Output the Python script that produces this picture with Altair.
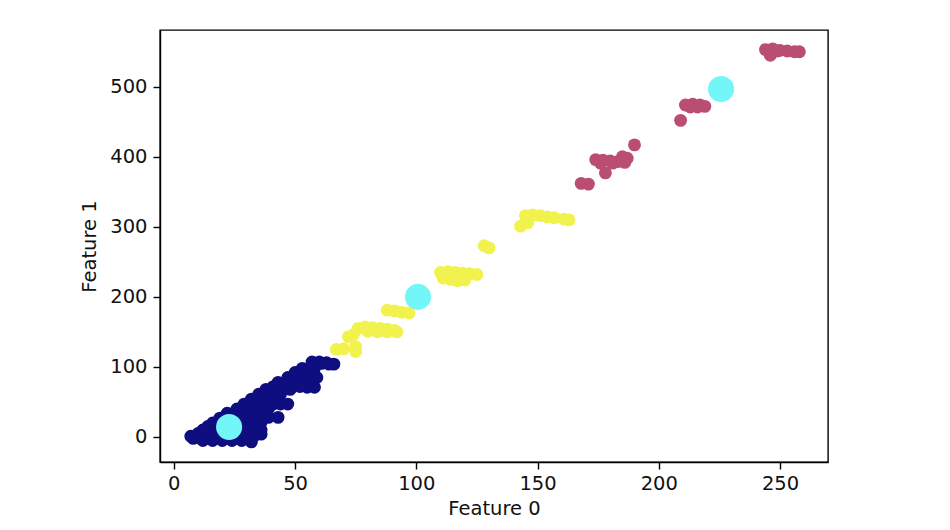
import altair as alt
import pandas as pd

# cluster 0 (navy)
blue_points = [
    (32, -7),
    (12, -5), (16, -5), (20, -5), (24, -5), (28, -5), (31, -4),
    (8, -2), (11, -2), (14, -2), (17, -2), (20, -2), (24, -2), (27, -2), (30, -2),
    (7, 1), (10, 1), (13, 1), (16, 1), (19, 1), (22, 1), (26, 1), (30, 1), (33, 1),
    (10, 5), (13, 5), (16, 5), (19, 5), (22, 5), (25, 5), (29, 5), (33, 5), (36, 4),
    (12, 10), (15, 10), (18, 10), (21, 10), (24, 10), (28, 10), (32, 10), (36, 10),
    (14, 15), (17, 15), (20, 15), (23, 15), (26, 15), (30, 15), (34, 15),
    (16, 20), (19, 20), (22, 20), (25, 20), (28, 20), (32, 20), (36, 21),
    (19, 27), (22, 27), (25, 27), (28, 27), (31, 27), (35, 27), (39, 28), (43, 28),
    (22, 34), (25, 34), (28, 34), (31, 34), (34, 34), (38, 34),
    (26, 40), (29, 40), (32, 40), (35, 40), (39, 40),
    (29, 47), (32, 47), (35, 47), (38, 47), (41, 47), (44, 47), (47, 47),
    (32, 54), (35, 54), (38, 54), (41, 54), (43, 54),
    (35, 61), (38, 61), (41, 61), (44, 61),
    (38, 68), (41, 68), (44, 68), (48, 68),
    (41, 72), (45, 72), (49, 72), (52, 72), (55, 71), (58, 71),
    (43, 78), (46, 78), (49, 78), (52, 78), (55, 78),
    (47, 85), (50, 85), (53, 85), (56, 85), (59, 85),
    (50, 92), (53, 92), (56, 92),
    (53, 98), (56, 98), (58, 98),
    (58, 104), (61, 105), (64, 104), (66, 104),
    (57, 107), (60, 107), (63, 106),
]

# cluster 1 (yellow)
yellow_points = [
    (67, 125), (70, 126), (75, 122), (75, 129), (72, 143), (74, 146),
    (76, 155), (79, 157), (82, 156), (85, 155), (88, 154), (91, 152),
    (80, 151), (84, 150), (88, 150), (92, 150),
    (88, 181), (91, 180), (94, 178), (97, 177),
    (110, 235), (113, 236), (116, 235), (119, 234), (122, 233), (125, 232),
    (111, 227), (114, 225), (117, 223), (120, 224),
    (128, 273), (130, 270),
    (145, 316), (148, 317), (151, 316), (154, 314), (157, 313), (161, 311),
    (163, 310), (143, 301), (146, 306),
]

# cluster 2 (pink-red)
red_points = [
    (168, 362), (171, 361),
    (174, 396), (177, 395), (180, 394), (183, 393), (186, 392),
    (187, 398), (185, 400), (176, 391), (181, 391), (178, 377),
    (190, 417),
    (209, 452),
    (211, 474), (214, 475), (217, 474), (219, 472), (213, 471), (216, 471),
    (244, 553), (247, 554), (250, 552), (253, 551), (256, 550), (258, 550),
    (246, 545), (249, 551),
]

# cluster centres
centers = [(22.8, 14.3), (100.7, 200.0), (225.7, 496.7)]

cluster_names = ["c0", "c1", "c2"]
cluster_colors = ["#0f0e80", "#f2f24f", "#b94e72"]
center_color = "#72f6f7"

x_ticks = [0, 50, 100, 150, 200, 250]
y_ticks = [0, 100, 200, 300, 400, 500]

rows = []
for name, pts in zip(cluster_names, [blue_points, yellow_points, red_points]):
    for x, y in pts:
        rows.append({"f0": x, "f1": y, "cluster": name})
df = pd.DataFrame(rows)
dc = pd.DataFrame([{"f0": x, "f1": y} for x, y in centers])

font = "DejaVu Sans"
fs = 19.5
xscale = alt.Scale(domain=[-5.7, 269.8], nice=False, zero=False)
yscale = alt.Scale(domain=[-35.7, 581], nice=False, zero=False)

xaxis = alt.Axis(title="Feature 0", values=x_ticks, grid=False, tickSize=7,
                 labelPadding=5, titlePadding=7, domainColor="black",
                 tickColor="black", domainWidth=1.4, tickWidth=1.4,
                 labelFont=font, titleFont=font, labelFontSize=fs,
                 titleFontSize=fs, titleFontWeight="normal",
                 labelColor="#111", titleColor="#111")
yaxis = alt.Axis(title="Feature 1", values=y_ticks, grid=False, tickSize=7,
                 labelPadding=6, titlePadding=10, domainColor="black",
                 tickColor="black", domainWidth=1.4, tickWidth=1.4,
                 labelFont=font, titleFont=font, labelFontSize=fs,
                 titleFontSize=fs, titleFontWeight="normal",
                 labelColor="#111", titleColor="#111")

pts = alt.Chart(df).mark_circle(size=165, opacity=1).encode(
    x=alt.X("f0:Q", scale=xscale, axis=xaxis),
    y=alt.Y("f1:Q", scale=yscale, axis=yaxis),
    color=alt.Color("cluster:N",
                    scale=alt.Scale(domain=cluster_names, range=cluster_colors),
                    legend=None),
    order=alt.Order("cluster:N"),
)

ctr = alt.Chart(dc).mark_circle(size=680, opacity=1, color=center_color).encode(
    x=alt.X("f0:Q", scale=xscale),
    y=alt.Y("f1:Q", scale=yscale),
)

chart = alt.layer(pts, ctr).properties(
    width=668, height=432,
    autosize=alt.AutoSizeParams(type="none"),
    padding={"left": 152, "top": 22, "right": 10, "bottom": 60},
    background="white",
).configure_view(stroke="black", strokeWidth=1.4)

chart.save("out.html", embed_options={"renderer": "svg", "actions": False})
